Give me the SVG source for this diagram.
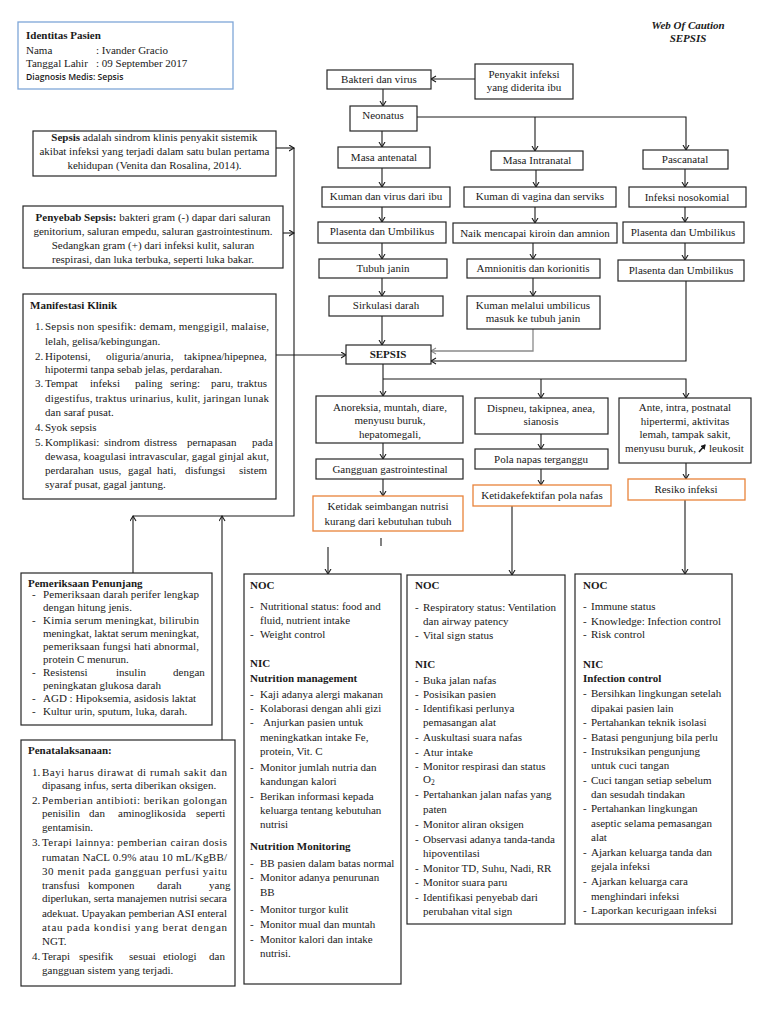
<svg xmlns="http://www.w3.org/2000/svg" width="768" height="1024" viewBox="0 0 768 1024">
<defs>
<style>
text{font-family:"Liberation Serif","Times New Roman",serif;font-size:11px;fill:#1a1a1a}
.c{text-anchor:middle}
.b{font-weight:bold}
.bx{fill:#fff;stroke:#262626;stroke-width:1.2}
.or{fill:#fff;stroke:#e8833a;stroke-width:1.3}
.ln{fill:none;stroke:#1a1a1a;stroke-width:1.1}
.gr{fill:none;stroke:#8a8a8a;stroke-width:1.3}
.sans{font-family:"Open Sans","Noto Sans","Liberation Sans",sans-serif;font-size:8.6px;font-weight:600}
</style>
<marker id="a" markerUnits="userSpaceOnUse" markerWidth="8" markerHeight="8" refX="5.5" refY="3.5" orient="auto">
<path d="M0.5,0.5 L5.5,3.5 L0.5,6.5" fill="none" stroke="#1a1a1a" stroke-width="1.1"/>
</marker>
<marker id="ag" markerUnits="userSpaceOnUse" markerWidth="8" markerHeight="8" refX="5.5" refY="3.5" orient="auto">
<path d="M0.5,0.5 L5.5,3.5 L0.5,6.5" fill="none" stroke="#8a8a8a" stroke-width="1.1"/>
</marker>
<marker id="af" markerUnits="userSpaceOnUse" markerWidth="8" markerHeight="8" refX="4" refY="3" orient="auto">
<path d="M0,0 L5,3 L0,6 Z" fill="#1a1a1a"/>
</marker>
</defs>
<rect width="768" height="1024" fill="#fff"/>

<g id="title">
<text class="c b" x="688" y="29" font-style="italic">Web Of Caution</text>
<text class="c b" x="688" y="42" font-style="italic">SEPSIS</text>
</g>

<g id="identitas">
<rect x="18" y="22" width="215" height="67" fill="#fff" stroke="#7ea6d8" stroke-width="1.3"/>
<text class="b" x="26" y="39">Identitas Pasien</text>
<text x="26" y="54">Nama</text><text x="96" y="54">: Ivander Gracio</text>
<text x="26" y="67">Tanggal Lahir</text><text x="96" y="67">: 09 September 2017</text>
<text class="sans" x="26" y="80">Diagnosis Medis</text><text class="sans" x="93" y="80">: Sepsis</text>
</g>

<g id="connectors">
<path class="ln" d="M276,148 H294" marker-end="url(#a)"/>
<path class="ln" d="M283,233 H294" marker-end="url(#a)"/>
<path class="ln" d="M294,148 V516 H133"/>
<path class="ln" d="M133,573 V516" marker-end="url(#a)"/>
<path class="ln" d="M222,740 V516" marker-end="url(#a)"/>
<path class="ln" d="M276,355 H346" marker-end="url(#a)"/>
<path class="ln" d="M475,79 H431" marker-end="url(#a)"/>
<path class="ln" d="M383,89 V106" marker-end="url(#a)"/>
<path class="ln" d="M382,131 V147" marker-end="url(#a)"/>
<path class="ln" d="M417,117 H686 V150" marker-end="url(#a)"/>
<path class="ln" d="M535,117 V151" marker-end="url(#a)"/>
<path class="ln" d="M382,168 V187" marker-end="url(#a)"/>
<path class="ln" d="M536,170 V187" marker-end="url(#a)"/>
<path class="ln" d="M685,169 V187" marker-end="url(#a)"/>
<path class="ln" d="M382,207 V222" marker-end="url(#a)"/>
<path class="ln" d="M535,207 V223" marker-end="url(#a)"/>
<path class="ln" d="M685,207 V222" marker-end="url(#a)"/>
<path class="ln" d="M382,243 V259" marker-end="url(#a)"/>
<path class="ln" d="M533,243 V259" marker-end="url(#a)"/>
<path class="ln" d="M685,243 V260" marker-end="url(#a)"/>
<path class="ln" d="M382,278 V296" marker-end="url(#a)"/>
<path class="ln" d="M533,278 V296" marker-end="url(#a)"/>
<path class="ln" d="M382,316 V345" marker-end="url(#a)"/>
<path class="gr" d="M533,329 V351 H431" marker-end="url(#ag)"/>
<path class="ln" d="M686,281 V361 H431" marker-end="url(#a)"/>
<path class="ln" d="M383,364 V396" marker-end="url(#a)"/>
<path class="ln" d="M383,379 H686 V398" marker-end="url(#a)"/>
<path class="ln" d="M541,379 V398" marker-end="url(#a)"/>
<path class="ln" d="M383,443 V459" marker-end="url(#a)"/>
<path class="ln" d="M541,434 V449" marker-end="url(#a)"/>
<path class="ln" d="M686,463 V479" marker-end="url(#a)"/>
<path class="ln" d="M383,479 V496" marker-end="url(#a)"/>
<path class="ln" d="M541,469 V485" marker-end="url(#a)"/>
<path class="ln" d="M512,506 V575" marker-end="url(#a)"/>
<path class="ln" d="M685,500 V574" marker-end="url(#a)"/>
<path class="ln" d="M381,538 V546"/>
<path class="ln" d="M328,547 V574" marker-end="url(#a)"/>
</g>

<g id="def-sepsis">
<rect class="bx" x="33" y="131" width="243" height="45"/>
<text class="c" x="154.5" y="141"><tspan class="b">Sepsis</tspan> adalah sindrom klinis penyakit sistemik</text>
<text class="c" x="154.5" y="155">akibat infeksi yang terjadi dalam satu bulan pertama</text>
<text class="c" x="154.5" y="169">kehidupan (Venita dan Rosalina, 2014).</text>
</g>

<g id="penyebab">
<rect class="bx" x="23" y="206" width="260" height="62"/>
<text class="c" x="153" y="221"><tspan class="b">Penyebab Sepsis:</tspan> bakteri gram (-) dapar dari saluran</text>
<text class="c" x="153" y="235">genitorium, saluran empedu, saluran gastrointestinum.</text>
<text class="c" x="153" y="249">Sedangkan gram (+) dari infeksi kulit, saluran</text>
<text class="c" x="153" y="263">respirasi, dan luka terbuka, seperti luka bakar.</text>
</g>

<g id="manifestasi">
<rect class="bx" x="23" y="294" width="253" height="205"/>
<text class="b" x="30" y="309">Manifestasi Klinik</text>
<text x="35" y="330">1.</text><text x="45" y="330" textLength="224" lengthAdjust="spacing">Sepsis non spesifik: demam, menggigil, malaise,</text>
<text x="45" y="345">lelah, gelisa/kebingungan.</text>
<text y="360"><tspan x="35">2.</tspan><tspan x="45">Hipotensi,</tspan><tspan x="106">oliguria/anuria,</tspan><tspan x="184">takipnea/hipepnea,</tspan></text>
<text x="45" y="373">hipotermi tanpa sebab jelas, perdarahan.</text>
<text y="387"><tspan x="35">3.</tspan><tspan x="45">Tempat</tspan><tspan x="90">infeksi</tspan><tspan x="135">paling</tspan><tspan x="170">sering:</tspan><tspan x="211">paru,</tspan><tspan x="237">traktus</tspan></text>
<text x="45" y="402" textLength="224" lengthAdjust="spacing">digestifus, traktus urinarius, kulit, jaringan lunak</text>
<text x="45" y="416">dan saraf pusat.</text>
<text x="35" y="431">4.</text><text x="45" y="431">Syok sepsis</text>
<text y="446"><tspan x="35">5.</tspan><tspan x="45">Komplikasi:</tspan><tspan x="104">sindrom</tspan><tspan x="144">distress</tspan><tspan x="187">pernapasan</tspan><tspan x="252">pada</tspan></text>
<text x="45" y="460" textLength="224" lengthAdjust="spacing">dewasa, koagulasi intravascular, gagal ginjal akut,</text>
<text y="474"><tspan x="45">perdarahan</tspan><tspan x="99">usus,</tspan><tspan x="128">gagal</tspan><tspan x="157">hati,</tspan><tspan x="185">disfungsi</tspan><tspan x="239">sistem</tspan></text>
<text x="45" y="488">syaraf pusat, gagal jantung.</text>
</g>

<g id="pemeriksaan">
<rect class="bx" x="21" y="573" width="191" height="152"/>
<text class="b" x="28" y="587">Pemeriksaan Penunjang</text>
<text x="32" y="598">-</text><text x="43" y="598" textLength="156" lengthAdjust="spacing">Pemeriksaan darah perifer lengkap</text>
<text x="43" y="611">dengan hitung jenis.</text>
<text x="32" y="624">-</text><text x="43" y="624" textLength="156" lengthAdjust="spacing">Kimia serum meningkat, bilirubin</text>
<text x="43" y="637" textLength="156" lengthAdjust="spacing">meningkat, laktat serum meningkat,</text>
<text x="43" y="650" textLength="156" lengthAdjust="spacing">pemeriksaan fungsi hati abnormal,</text>
<text x="43" y="663">protein C menurun.</text>
<text y="676"><tspan x="32">-</tspan><tspan x="43">Resistensi</tspan><tspan x="116">insulin</tspan><tspan x="173">dengan</tspan></text>
<text x="43" y="689">peningkatan glukosa darah</text>
<text x="32" y="702">-</text><text x="43" y="702">AGD : Hipoksemia, asidosis laktat</text>
<text x="32" y="715">-</text><text x="43" y="715">Kultur urin, sputum, luka, darah.</text>
</g>

<g id="penatalaksanaan">
<rect class="bx" x="21" y="740" width="214" height="246"/>
<text class="b" x="28" y="754">Penatalaksanaan:</text>
<text x="32" y="776">1.</text><text x="42" y="776" textLength="185" lengthAdjust="spacing">Bayi harus dirawat di rumah sakit dan</text>
<text x="42" y="789">dipasang infus, serta diberikan oksigen.</text>
<text x="32" y="804">2.</text><text x="42" y="804" textLength="185" lengthAdjust="spacing">Pemberian antibioti: berikan golongan</text>
<text y="817"><tspan x="42">penisilin</tspan><tspan x="89">dan</tspan><tspan x="118">aminoglikosida</tspan><tspan x="196">seperti</tspan></text>
<text x="42" y="831">gentamisin.</text>
<text x="32" y="846">3.</text><text x="42" y="846" textLength="185" lengthAdjust="spacing">Terapi lainnya: pemberian cairan dosis</text>
<text x="42" y="861" textLength="185" lengthAdjust="spacing">rumatan NaCL 0.9% atau 10 mL/KgBB/</text>
<text x="42" y="875" textLength="185" lengthAdjust="spacing">30 menit pada gangguan perfusi yaitu</text>
<text y="889"><tspan x="42">transfusi</tspan><tspan x="88">komponen</tspan><tspan x="157">darah</tspan><tspan x="209">yang</tspan></text>
<text x="42" y="902" textLength="185" lengthAdjust="spacing">diperlukan, serta manajemen nutrisi secara</text>
<text x="42" y="917" textLength="185" lengthAdjust="spacing">adekuat. Upayakan pemberian ASI enteral</text>
<text x="42" y="931" textLength="185" lengthAdjust="spacing">atau pada kondisi yang berat dengan</text>
<text x="42" y="945">NGT.</text>
<text y="960"><tspan x="32">4.</tspan><tspan x="42">Terapi</tspan><tspan x="79">spesifik</tspan><tspan x="129">sesuai</tspan><tspan x="163">etiologi</tspan><tspan x="209">dan</tspan></text>
<text x="42" y="974">gangguan sistem yang terjadi.</text>
</g>

<g id="bakteri"><rect class="bx" x="327" y="70" width="104" height="19"/><text class="c" x="379" y="83">Bakteri dan virus</text></g>
<g id="penyakit"><rect class="bx" x="475" y="64" width="98" height="35"/><text class="c" x="524" y="78">Penyakit infeksi</text><text class="c" x="524" y="91">yang diderita ibu</text></g>
<g id="neonatus"><rect class="bx" x="350" y="106" width="67" height="25"/><text class="c" x="383" y="119">Neonatus</text></g>
<g id="antenatal"><rect class="bx" x="338" y="147" width="92" height="21"/><text class="c" x="384" y="161">Masa antenatal</text></g>
<g id="intranatal"><rect class="bx" x="491" y="151" width="92" height="19"/><text class="c" x="537" y="164">Masa Intranatal</text></g>
<g id="pascanatal"><rect class="bx" x="643" y="150" width="85" height="19"/><text class="c" x="685" y="163">Pascanatal</text></g>
<g id="kuman-ibu"><rect class="bx" x="322" y="187" width="128" height="20"/><text class="c" x="386" y="200">Kuman dan virus dari ibu</text></g>
<g id="kuman-vagina"><rect class="bx" x="464" y="187" width="152" height="20"/><text class="c" x="540" y="200">Kuman di vagina dan serviks</text></g>
<g id="nosokomial"><rect class="bx" x="629" y="187" width="117" height="20"/><text class="c" x="687" y="201">Infeksi nosokomial</text></g>
<g id="plasenta-1"><rect class="bx" x="318" y="222" width="128" height="21"/><text class="c" x="382" y="235">Plasenta dan Umbilikus</text></g>
<g id="naik"><rect class="bx" x="453" y="223" width="164" height="20"/><text class="c" x="535" y="237">Naik mencapai kiroin dan amnion</text></g>
<g id="plasenta-2"><rect class="bx" x="623" y="222" width="121" height="21"/><text class="c" x="683" y="236">Plasenta dan Umbilikus</text></g>
<g id="tubuh"><rect class="bx" x="319" y="259" width="128" height="19"/><text class="c" x="383" y="272">Tubuh janin</text></g>
<g id="amnionitis"><rect class="bx" x="467" y="259" width="133" height="19"/><text class="c" x="533" y="272">Amnionitis dan korionitis</text></g>
<g id="plasenta-3"><rect class="bx" x="618" y="260" width="126" height="21"/><text class="c" x="681" y="274">Plasenta dan Umbilikus</text></g>
<g id="sirkulasi"><rect class="bx" x="329" y="296" width="114" height="20"/><text class="c" x="386" y="309">Sirkulasi darah</text></g>
<g id="kuman-umbilicus"><rect class="bx" x="467" y="296" width="133" height="33"/><text class="c" x="533" y="309">Kuman melalui umbilicus</text><text class="c" x="533" y="322">masuk ke tubuh janin</text></g>
<g id="sepsis"><rect class="bx" x="346" y="345" width="85" height="19"/><text class="c b" x="388" y="358">SEPSIS</text></g>
<g id="anoreksia"><rect class="bx" x="316" y="396" width="147" height="47"/><text class="c" x="390" y="411">Anoreksia, muntah, diare,</text><text class="c" x="390" y="424">menyusu buruk,</text><text class="c" x="390" y="438">hepatomegali,</text></g>
<g id="dispneu"><rect class="bx" x="475" y="398" width="133" height="36"/><text class="c" x="541" y="412">Dispneu, takipnea, anea,</text><text class="c" x="541" y="425">sianosis</text></g>
<g id="ante"><rect class="bx" x="619" y="398" width="132" height="65"/><text class="c" x="685" y="411">Ante, intra, postnatal</text><text class="c" x="685" y="425">hipertermi, aktivitas</text><text class="c" x="685" y="438">lemah, tampak sakit,</text><text x="696" y="452" text-anchor="end">menyusu buruk,</text><text x="709" y="452">leukosit</text><path d="M699,452 L705,445" fill="none" stroke="#1a1a1a" stroke-width="1.6" marker-end="url(#af)"/></g>
<g id="gangguan"><rect class="bx" x="316" y="459" width="147" height="20"/><text class="c" x="390" y="473">Gangguan gastrointestinal</text></g>
<g id="pola"><rect class="bx" x="475" y="449" width="133" height="20"/><text class="c" x="541" y="463">Pola napas terganggu</text></g>
<g id="resiko"><rect class="or" x="628" y="479" width="117" height="21"/><text class="c" x="686" y="493">Resiko infeksi</text></g>
<g id="ketidakseimbangan"><rect class="or" x="313" y="496" width="150" height="35"/><text class="c" x="388" y="510">Ketidak seimbangan nutrisi</text><text class="c" x="388" y="525">kurang dari kebutuhan tubuh</text></g>
<g id="ketidakefektifan"><rect class="or" x="473" y="485" width="138" height="21"/><text class="c" x="542" y="499">Ketidakefektifan pola nafas</text></g>

<g id="noc-nutrisi">
<rect class="bx" x="244" y="574" width="157" height="410"/>
<text class="b" x="250" y="589">NOC</text>
<text y="610"><tspan x="250">-</tspan><tspan x="260">Nutritional status: food and</tspan></text>
<text x="260" y="624">fluid, nutrient intake</text>
<text y="638"><tspan x="250">-</tspan><tspan x="260">Weight control</tspan></text>
<text class="b" x="250" y="667">NIC</text>
<text class="b" x="250" y="682">Nutrition management</text>
<text y="698"><tspan x="250">-</tspan><tspan x="260">Kaji adanya alergi makanan</tspan></text>
<text y="712"><tspan x="250">-</tspan><tspan x="260">Kolaborasi dengan ahli gizi</tspan></text>
<text y="726"><tspan x="250">-</tspan><tspan x="263">Anjurkan pasien untuk</tspan></text>
<text x="260" y="741">meningkatkan intake Fe,</text>
<text x="260" y="755">protein, Vit. C</text>
<text y="771"><tspan x="250">-</tspan><tspan x="260">Monitor jumlah nutria dan</tspan></text>
<text x="260" y="785">kandungan kalori</text>
<text y="800"><tspan x="250">-</tspan><tspan x="260">Berikan informasi kepada</tspan></text>
<text x="260" y="814">keluarga tentang kebutuhan</text>
<text x="260" y="828">nutrisi</text>
<text class="b" x="250" y="850">Nutrition Monitoring</text>
<text y="867"><tspan x="250">-</tspan><tspan x="260">BB pasien dalam batas normal</tspan></text>
<text y="881"><tspan x="250">-</tspan><tspan x="260">Monitor adanya penurunan</tspan></text>
<text x="260" y="896">BB</text>
<text y="913"><tspan x="250">-</tspan><tspan x="260">Monitor turgor kulit</tspan></text>
<text y="928"><tspan x="250">-</tspan><tspan x="260">Monitor mual dan muntah</tspan></text>
<text y="943"><tspan x="250">-</tspan><tspan x="260">Monitor kalori dan intake</tspan></text>
<text x="260" y="957">nutrisi.</text>
</g>

<g id="noc-nafas">
<rect class="bx" x="407" y="575" width="158" height="349"/>
<text class="b" x="415" y="589">NOC</text>
<text y="611"><tspan x="415">-</tspan><tspan x="423">Respiratory status: Ventilation</tspan></text>
<text x="423" y="625">dan airway patency</text>
<text y="639"><tspan x="415">-</tspan><tspan x="423">Vital sign status</tspan></text>
<text class="b" x="415" y="668">NIC</text>
<text y="684"><tspan x="415">-</tspan><tspan x="423">Buka jalan nafas</tspan></text>
<text y="698"><tspan x="415">-</tspan><tspan x="423">Posisikan pasien</tspan></text>
<text y="712"><tspan x="415">-</tspan><tspan x="423">Identifikasi perlunya</tspan></text>
<text x="423" y="726">pemasangan alat</text>
<text y="741"><tspan x="415">-</tspan><tspan x="423">Auskultasi suara nafas</tspan></text>
<text y="756"><tspan x="415">-</tspan><tspan x="423">Atur intake</tspan></text>
<text y="770"><tspan x="415">-</tspan><tspan x="423">Monitor respirasi dan status</tspan></text>
<text x="423" y="783">O<tspan font-size="7.5" dy="2">2</tspan></text>
<text y="798"><tspan x="415">-</tspan><tspan x="423">Pertahankan jalan nafas yang</tspan></text>
<text x="423" y="813">paten</text>
<text y="828"><tspan x="415">-</tspan><tspan x="423">Monitor aliran oksigen</tspan></text>
<text y="843"><tspan x="415">-</tspan><tspan x="423">Observasi adanya tanda-tanda</tspan></text>
<text x="423" y="857">hipoventilasi</text>
<text y="872"><tspan x="415">-</tspan><tspan x="423">Monitor TD, Suhu, Nadi, RR</tspan></text>
<text y="886"><tspan x="415">-</tspan><tspan x="423">Monitor suara paru</tspan></text>
<text y="901"><tspan x="415">-</tspan><tspan x="423">Identifikasi penyebab dari</tspan></text>
<text x="423" y="915">perubahan vital sign</text>
</g>

<g id="noc-infeksi">
<rect class="bx" x="575" y="574" width="157" height="350"/>
<text class="b" x="583" y="589">NOC</text>
<text y="610"><tspan x="583">-</tspan><tspan x="591">Immune status</tspan></text>
<text y="625"><tspan x="583">-</tspan><tspan x="591">Knowledge: Infection control</tspan></text>
<text y="638"><tspan x="583">-</tspan><tspan x="591">Risk control</tspan></text>
<text class="b" x="583" y="668">NIC</text>
<text class="b" x="583" y="682">Infection control</text>
<text y="697"><tspan x="583">-</tspan><tspan x="591">Bersihkan lingkungan setelah</tspan></text>
<text x="591" y="712">dipakai pasien lain</text>
<text y="726"><tspan x="583">-</tspan><tspan x="591">Pertahankan teknik isolasi</tspan></text>
<text y="741"><tspan x="583">-</tspan><tspan x="591">Batasi pengunjung bila perlu</tspan></text>
<text y="755"><tspan x="583">-</tspan><tspan x="591">Instruksikan pengunjung</tspan></text>
<text x="591" y="769">untuk cuci tangan</text>
<text y="784"><tspan x="583">-</tspan><tspan x="591">Cuci tangan setiap sebelum</tspan></text>
<text x="591" y="798">dan sesudah tindakan</text>
<text y="812"><tspan x="583">-</tspan><tspan x="591">Pertahankan lingkungan</tspan></text>
<text x="591" y="827">aseptic selama pemasangan</text>
<text x="591" y="841">alat</text>
<text y="856"><tspan x="583">-</tspan><tspan x="591">Ajarkan keluarga tanda dan</tspan></text>
<text x="591" y="870">gejala infeksi</text>
<text y="885"><tspan x="583">-</tspan><tspan x="591">Ajarkan keluarga cara</tspan></text>
<text x="591" y="900">menghindari infeksi</text>
<text y="914"><tspan x="583">-</tspan><tspan x="591">Laporkan kecurigaan infeksi</tspan></text>
</g>
</svg>
